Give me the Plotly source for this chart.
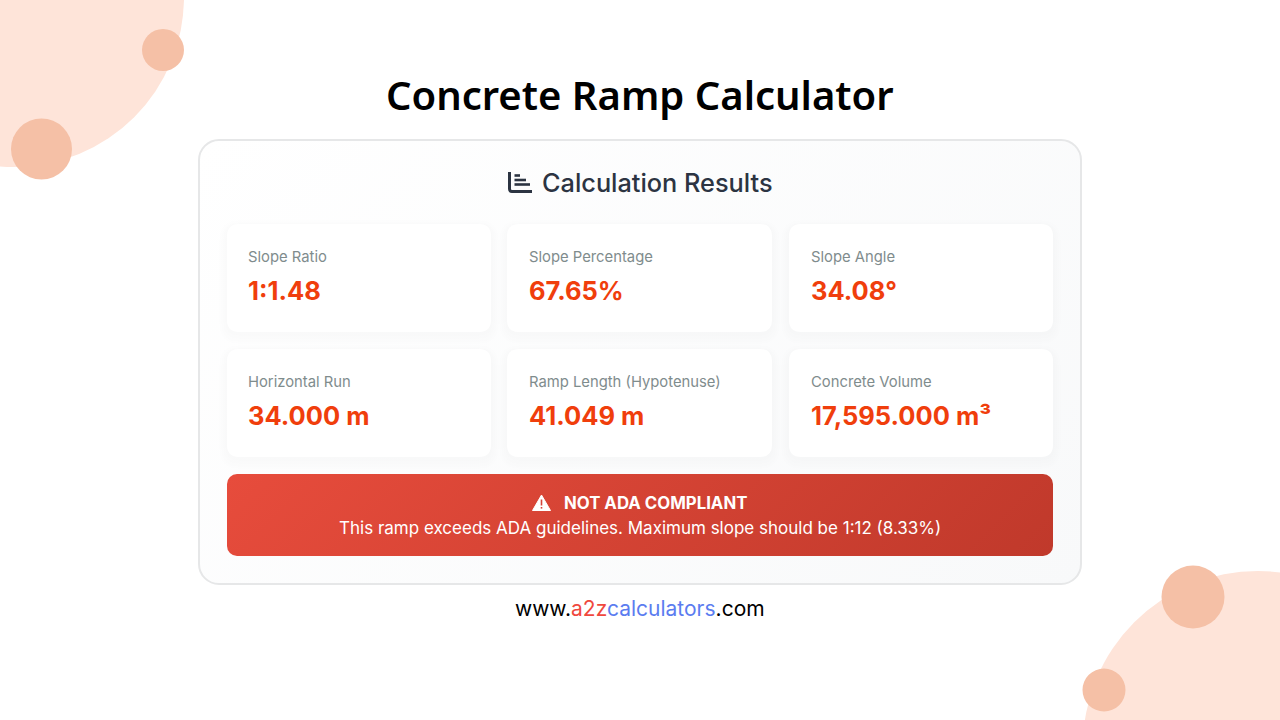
import base64
import math
import plotly.graph_objects as go

TITLE = "Concrete Ramp Calculator"
HEADING = "Calculation Results"
LABELS = ["Slope Ratio", "Slope Percentage", "Slope Angle",
          "Horizontal Run", "Ramp Length (Hypotenuse)", "Concrete Volume"]
VALUES = ["1:1.48", "67.65%", "34.08°", "34.000 m", "41.049 m", "17,595.000 m³"]
ALERT_TITLE = "NOT ADA COMPLIANT"
ALERT_TEXT = "This ramp exceeds ADA guidelines. Maximum slope should be 1:12 (8.33%)"

INTER = "Inter"
PALE, PEACH = "#fee4d9", "#f5c0a6"
CARD_X = [(227, 491), (507, 772), (789, 1053)]
CARD_Y = [(224, 332), (349, 457)]
TEXT_X = [246, 527, 809]


def rrect(x0, y0, x1, y1, r):
    return (f"M{x0+r},{y0} L{x1-r},{y0} Q{x1},{y0} {x1},{y0+r} L{x1},{y1-r} Q{x1},{y1} {x1-r},{y1} "
            f"L{x0+r},{y1} Q{x0},{y1} {x0},{y1-r} L{x0},{y0+r} Q{x0},{y0} {x0+r},{y0} Z")


def circle(cx, cy, r, color):
    return dict(type="circle", x0=cx-r, x1=cx+r, y0=cy-r, y1=cy+r,
                fillcolor=color, line_width=0, layer="below")


def path(d, fill="rgba(0,0,0,0)", line=None, width=0, layer="above"):
    return dict(type="path", path=d, fillcolor=fill, layer=layer,
                line=dict(color=line or "rgba(0,0,0,0)", width=width))


def gradient_image(x0, y0, x1, y1, r, c0, c1, stroke=None):
    w, h = x1-x0, y1-y0
    s = f'stroke="{stroke}" stroke-width="2"' if stroke else ""
    pad = 1 if stroke else 0
    half = (w+h)*math.sqrt(.5)/2*math.sqrt(.5)  # CSS 135deg gradient line
    gx0, gy0, gx1, gy1 = w/2-half, h/2-half, w/2+half, h/2+half
    svg = (f'<svg xmlns="http://www.w3.org/2000/svg" width="{w}" height="{h}" viewBox="0 0 {w} {h}">'
           f'<defs><linearGradient id="g" gradientUnits="userSpaceOnUse" '
           f'x1="{gx0}" y1="{gy0}" x2="{gx1}" y2="{gy1}">'
           f'<stop offset="0" stop-color="{c0}"/><stop offset="1" stop-color="{c1}"/></linearGradient></defs>'
           f'<rect x="{pad}" y="{pad}" width="{w-2*pad}" height="{h-2*pad}" rx="{r}" ry="{r}" fill="url(#g)" {s}/></svg>')
    src = "data:image/svg+xml;base64," + base64.b64encode(svg.encode()).decode()
    return dict(source=src, xref="x", yref="y", x=x0, y=y0, sizex=w, sizey=h,
                xanchor="left", yanchor="top", sizing="stretch", layer="below")


shapes, notes = [], []

# decorative circles
shapes += [circle(14, -3, 170, PALE), circle(163, 50, 21, PEACH), circle(41.5, 149, 30.5, PEACH),
           circle(1258, 746, 175, PALE), circle(1193, 597, 31.5, PEACH), circle(1104, 690, 21.5, PEACH)]

images = [gradient_image(198, 139, 1082, 585, 20, "#ffffff", "#f8f9fa", stroke="#e6e7e8"),
          gradient_image(227, 474, 1053, 556, 10, "#e74c3c", "#c0392b")]


def text(x, y, s, size, color, anchor="left", weight=400, family=INTER):
    notes.append(dict(x=x, y=y, text=s, showarrow=False, xanchor=anchor, yanchor="middle",
                      font=dict(family=family, size=size, color=color, weight=weight)))


# cards
for i, (label, value) in enumerate(zip(LABELS, VALUES)):
    x0, x1 = CARD_X[i % 3]
    y0, y1 = CARD_Y[i // 3]
    for grow, offset, alpha in [(8, 4, .004), (6, 4, .004), (4, 3, .005), (2, 2, .005)]:
        shapes.append(path(rrect(x0-grow, y0-grow+offset, x1+grow, y1+grow+offset, 12+grow),
                           fill=f"rgba(0,0,0,{alpha})"))
    shapes.append(path(rrect(x0, y0, x1, y1, 12), fill="#ffffff"))
    tx = TEXT_X[i % 3]
    text(tx, y0+32.5, label, 14.8, "#7f8c8d")
    text(tx, y0+66.5, value, 25.5, "#f03e0c", weight=700)

# heading and its icon
text(657.5, 182.5, HEADING, 25.3, "#2c3442", anchor="center", weight=500)
ic = "#2c3442"
shapes.append(path("M509.5,172 L509.5,189 Q509.5,191.5 512,191.5 L532,191.5", line=ic, width=3))
for y, x1 in [(175.5, 520), (180, 526), (184.5, 530)]:
    shapes.append(path(f"M514.5,{y} L{x1},{y}", line=ic, width=2.6))

# alert
shapes.append(path("M541.5,495 L550.5,510.5 L532.5,510.5 Z", fill="#ffffff", line="#ffffff", width=1))
shapes.append(path("M541.5,499.5 L541.5,505.5", line="#d5443a", width=1.6))
shapes.append(path("M541.5,507 L541.5,508.6", line="#d5443a", width=1.6))
text(655, 503, ALERT_TITLE, 16.8, "#ffffff", anchor="center", weight=700)
text(640, 528, ALERT_TEXT, 17, "#ffffff", anchor="center")

# title and footer
text(640, 94.5, TITLE, 40, "#000000", anchor="center", weight=600, family="Noto Sans")
text(640, 608.5, 'www.<span style="color:#f0483e">a2z</span><span style="color:#5b7cf0">calculators</span>.com',
     21, "#000000", anchor="center", family="Inter")

fig = go.Figure()
fig.update_layout(
    width=1280, height=720, margin=dict(l=0, r=0, t=0, b=0),
    paper_bgcolor="#ffffff", plot_bgcolor="#ffffff", showlegend=False,
    xaxis=dict(range=[0, 1280], visible=False, fixedrange=True),
    yaxis=dict(range=[720, 0], visible=False, fixedrange=True),
    shapes=shapes, annotations=notes, images=images,
)
fig.write_html("out.html", config=dict(displayModeBar=False),
               post_script="document.body.style.margin='0';")
